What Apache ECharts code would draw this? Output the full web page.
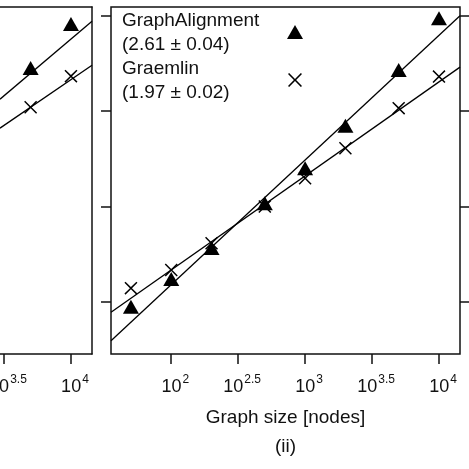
<!DOCTYPE html>
<html><head><meta charset="utf-8">
<script src="https://cdn.jsdelivr.net/npm/echarts@6/dist/echarts.min.js"></script>
<style>html,body{margin:0;padding:0;background:#fff}#c{width:469px;height:469px}</style>
</head><body><div id="c"></div>
<script>
// ---- data (y values are log10 of run time, x values in nodes) ----
const graphSizes = [50, 100, 200, 500, 1000, 2000, 5000, 10000];
const graphAlignmentLogTime = [-0.10, 0.48, 1.13, 2.07, 2.80, 3.69, 4.86, 5.94];
const graemlinLogTime = [0.29, 0.67, 1.23, 2.00, 2.59, 3.22, 4.06, 4.72];
const seriesNames = ['GraphAlignment', 'Graemlin'];
const fitSlopes = [2.61, 1.97];
const fitSlopeErrors = [0.04, 0.02];
const fitIntercepts = [-4.856, -3.27];
// panel (i): only its right edge is visible
const leftGraphSizes = [5000, 10000];
const leftGraphAlignmentLogTime = [4.90, 5.82];
const leftGraemlinLogTime = [4.08, 4.73];
const leftFitSlopes = [2.38, 1.92];
const leftFitIntercepts = [-4.013, -3.022];
// ticks
const xTickExponents = [2, 2.5, 3, 3.5, 4];
const yTickExponents = [0, 2, 4, 6];
const xTitle = 'Graph size [nodes]';
const panelLabel = '(ii)';

// ---- chart ----
const X_MIN = 1.55, X_MAX = 4.157, Y_MIN = -1.089, Y_MAX = 6.178;
const PX_PER_DECADE = 134;                 // same x scale in both panels
const LEFT_PANEL_RIGHT = 92;               // visible right edge of panel (i)
const LX_MIN = X_MAX - LEFT_PANEL_RIGHT / PX_PER_DECADE;
const INK = '#111';
const FONT = "'Liberation Sans', Arial, Helvetica, sans-serif";
const X_PATH = 'path://M8,0L50,42L92,0L100,8L58,50L100,92L92,100L50,58L8,100L0,92L42,50L0,8Z';

const pts = (xs, ys) => xs.map((n, i) => [Math.log10(n), ys[i]]);
const fitLine = (a, b, x0, x1) => [[x0, a * x0 + b], [x1, a * x1 + b]];

const tickStyle = { color: INK, width: 1.5 };
const lineSt = { color: INK, width: 1.5 };
const labelCfg = {
  show: true, customValues: xTickExponents, margin: 20, padding: [0, 0, 0, 8],
  formatter: v => '{b|10}{s|' + String(v) + '}',
  rich: {
    b: { fontSize: 18, fontFamily: FONT, color: INK, lineHeight: 22, verticalAlign: 'bottom' },
    s: { fontSize: 12, fontFamily: FONT, color: INK, lineHeight: 12, verticalAlign: 'top', padding: [0, 0, 0, 1] }
  }
};

const scatter = (name, symbol, size, data, xi, yi) => ({
  name, type: 'scatter', xAxisIndex: xi, yAxisIndex: yi, symbol, symbolSize: size,
  symbolKeepAspect: true, data, itemStyle: { color: '#000', opacity: 1 }, z: 3
});
const line = (name, data, xi, yi) => ({
  name, type: 'line', xAxisIndex: xi, yAxisIndex: yi, data, showSymbol: false, symbol: 'none',
  lineStyle: { color: '#000', width: 1.3 }, z: 2, silent: true
});

const legendLabel = (name) => {
  const i = seriesNames.indexOf(name);
  return name + '\n(' + fitSlopes[i].toFixed(2) + ' ± ' + fitSlopeErrors[i].toFixed(2) + ')';
};

const option = {
  animation: false,
  textStyle: { fontFamily: FONT },
  title: { text: panelLabel, left: 285.5, top: 437, textAlign: 'center', padding: 0,
    textStyle: { fontSize: 19, fontWeight: 'normal', fontFamily: FONT, color: INK } },
  legend: [
    { orient: 'vertical', left: 117, top: 9, padding: 0, itemGap: 0, itemWidth: 0, itemHeight: 0,
      icon: 'none', data: seriesNames, formatter: legendLabel, selectedMode: false,
      textStyle: { fontSize: 19, lineHeight: 24, fontFamily: FONT, color: INK } },
    { orient: 'vertical', left: 287, top: 25, padding: 0, itemGap: 34, itemWidth: 16, itemHeight: 14,
      data: [{ name: seriesNames[0], icon: 'triangle' }, { name: seriesNames[1], icon: X_PATH }],
      formatter: () => '', selectedMode: false,
      textStyle: { fontSize: 1, lineHeight: 1 } }
  ],
  grid: [
    { left: 111, top: 7, width: 349, height: 347, show: true, borderColor: INK, borderWidth: 1.5,
      backgroundColor: 'transparent', containLabel: false, outerBoundsMode: 'none' },
    { left: 0, top: 7, width: LEFT_PANEL_RIGHT, height: 347, show: false,
      containLabel: false, outerBoundsMode: 'none' }
  ],
  xAxis: [
    { type: 'value', gridIndex: 0, min: X_MIN, max: X_MAX,
      axisLine: { show: false, onZero: false }, splitLine: { show: false },
      axisTick: { show: true, inside: false, length: 10, customValues: xTickExponents, lineStyle: tickStyle },
      axisLabel: labelCfg,
      name: xTitle, nameLocation: 'middle', nameGap: 54,
      nameTextStyle: { fontSize: 19, fontFamily: FONT, color: INK } },
    { type: 'value', gridIndex: 1, min: LX_MIN, max: X_MAX, position: 'bottom',
      axisLine: { show: true, onZero: false, lineStyle: lineSt }, splitLine: { show: false },
      axisTick: { show: true, inside: false, length: 10, customValues: xTickExponents, lineStyle: tickStyle },
      axisLabel: labelCfg },
    { type: 'value', gridIndex: 1, min: LX_MIN, max: X_MAX, position: 'top',
      axisLine: { show: true, onZero: false, lineStyle: lineSt }, splitLine: { show: false },
      axisTick: { show: false }, axisLabel: { show: false } }
  ],
  yAxis: [
    { type: 'value', gridIndex: 0, position: 'left', min: Y_MIN, max: Y_MAX,
      axisLine: { show: false, onZero: false }, splitLine: { show: false },
      axisTick: { show: true, inside: false, length: 10, customValues: yTickExponents, lineStyle: tickStyle },
      axisLabel: { show: false } },
    { type: 'value', gridIndex: 0, position: 'right', min: Y_MIN, max: Y_MAX,
      axisLine: { show: false, onZero: false }, splitLine: { show: false },
      axisTick: { show: true, inside: false, length: 10, customValues: yTickExponents, lineStyle: tickStyle },
      axisLabel: { show: false } },
    { type: 'value', gridIndex: 1, position: 'right', min: Y_MIN, max: Y_MAX,
      axisLine: { show: true, onZero: false, lineStyle: lineSt }, splitLine: { show: false },
      axisTick: { show: false }, axisLabel: { show: false } }
  ],
  series: [
    scatter(seriesNames[0], 'triangle', [16, 14], pts(graphSizes, graphAlignmentLogTime), 0, 0),
    scatter(seriesNames[1], X_PATH, 13, pts(graphSizes, graemlinLogTime), 0, 0),
    line(seriesNames[0] + ' fit', fitLine(fitSlopes[0], fitIntercepts[0], X_MIN, X_MAX), 0, 0),
    line(seriesNames[1] + ' fit', fitLine(fitSlopes[1], fitIntercepts[1], X_MIN, X_MAX), 0, 0),
    scatter(seriesNames[0], 'triangle', [16, 14], pts(leftGraphSizes, leftGraphAlignmentLogTime), 1, 2),
    scatter(seriesNames[1], X_PATH, 13, pts(leftGraphSizes, leftGraemlinLogTime), 1, 2),
    line('panel i ' + seriesNames[0] + ' fit', fitLine(leftFitSlopes[0], leftFitIntercepts[0], LX_MIN, X_MAX), 1, 2),
    line('panel i ' + seriesNames[1] + ' fit', fitLine(leftFitSlopes[1], leftFitIntercepts[1], LX_MIN, X_MAX), 1, 2)
  ]
};
const chart = echarts.init(document.getElementById('c'), null, { renderer: 'canvas' });
chart.setOption(option);
</script>
</body></html>
